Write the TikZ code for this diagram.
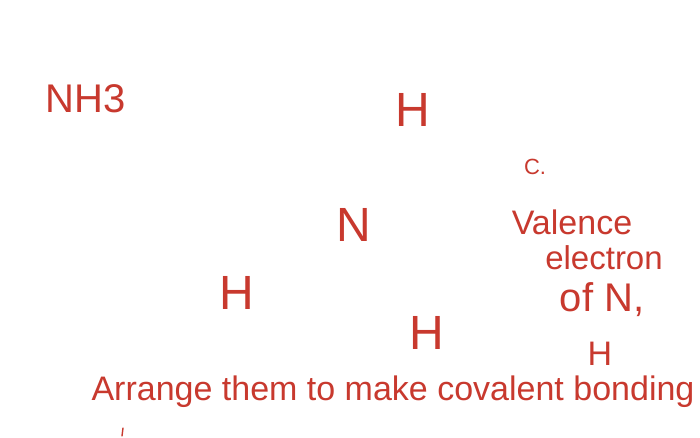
\documentclass[tikz,border=0pt]{standalone}
\usepackage{fontspec}
\setmainfont{Liberation Sans}
\definecolor{ink}{HTML}{C8392E}
\begin{document}
\begin{tikzpicture}[x=1pt,y=-1pt,
  hw/.style={text=ink,inner sep=0pt,anchor=center},
  big/.style={hw,font=\fontsize{48}{50}\selectfont},
  mid/.style={hw,font=\fontsize{34}{36}\selectfont}]
\useasboundingbox (0,0) rectangle (700,438);
\fill[white] (0,0) rectangle (700,438);
\node[hw,font=\fontsize{40}{42}\selectfont] (nh3) at (86,99) {NH3};
\node[big] (htop) at (413,110) {H};
\node[big] (n) at (354,225) {N};
\node[big] (hleft) at (237,293) {H};
\node[big] (hbot) at (427,333) {H};
\node[hw,font=\fontsize{22}{24}\selectfont] (c) at (535,167) {C.};
\node[mid] (val) at (572,222) {Valence};
\node[hw,font=\fontsize{33}{35}\selectfont] (elec) at (604,258) {electron};
\node[hw,font=\fontsize{40}{42}\selectfont] (ofn) at (602,300) {of N,};
\node[mid] (hr) at (600,354) {H};
\node[hw,font=\fontsize{34}{36}\selectfont] (arr) at (393,392) {Arrange them to make covalent bonding};
\coordinate (t1) at (123,428);
\coordinate (t2) at (122,436);
\draw[ink,line width=1.4pt,line cap=round] (t1) -- (t2);
\end{tikzpicture}
\end{document}
